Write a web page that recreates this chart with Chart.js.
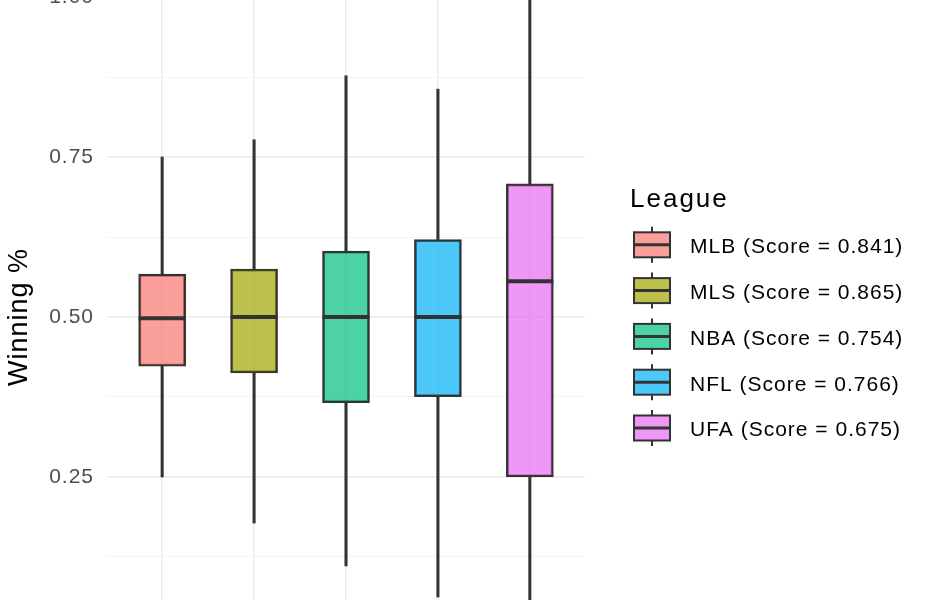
<!DOCTYPE html>
<html><head><meta charset="utf-8">
<script src="https://cdn.jsdelivr.net/npm/chart.js@4.4.0/dist/chart.umd.min.js"></script>
<style>
html,body{margin:0;padding:0;background:#fff;overflow:hidden;width:936px;height:600px;position:relative}
#wrap{position:absolute;left:0;top:-20px;width:936px;height:674px}
</style>
</head><body>
<div id="wrap"><canvas id="c" width="936" height="674"></canvas></div>
<script>
// ---- data ----
const leagues = ['MLB', 'MLS', 'NBA', 'NFL', 'UFA'];
const scores = ['0.841', '0.865', '0.754', '0.766', '0.675'];
const whiskerLow = [0.25, 0.178, 0.111, 0.0625, 0.0];
const q1 = [0.423, 0.4125, 0.366, 0.3755, 0.25];
const median = [0.498, 0.50, 0.50, 0.50, 0.556];
const q3 = [0.567, 0.575, 0.603, 0.621, 0.708];
const whiskerHigh = [0.75, 0.777, 0.877, 0.856, 1.0];
const majorTicks = [0.25, 0.5, 0.75, 1.0];
const minorTicks = [0.125, 0.375, 0.625, 0.875];
const baseColors = [[248,118,109],[163,165,0],[0,191,125],[0,176,246],[231,107,243]];

const FONT = "'Liberation Sans', Arial, Helvetica, sans-serif";
const fills = baseColors.map(c => `rgba(${c[0]},${c[1]},${c[2]},0.7)`);
const legendLabels = leagues.map((l, i) => `${l} (Score = ${scores[i]})`);
const xs = leagues.map((_, i) => i + 1);
const allTicks = [...majorTicks, ...minorTicks].sort((a, b) => a - b);
const isMajor = v => majorTicks.some(m => Math.abs(m - v) < 1e-9);

const BOX_W = 47;

const medianPlugin = {
  id: 'medians',
  afterDatasetsDraw(chart) {
    const {ctx, scales: {x, y}} = chart;
    ctx.save();
    ctx.strokeStyle = '#333333';
    ctx.lineWidth = 4;
    median.forEach((m, i) => {
      const px = x.getPixelForValue(xs[i]);
      const py = y.getPixelForValue(m);
      ctx.beginPath();
      ctx.moveTo(px - BOX_W / 2, py);
      ctx.lineTo(px + BOX_W / 2, py);
      ctx.stroke();
    });
    ctx.restore();
  }
};

const spacingPlugin = {
  id: 'spacing',
  beforeDraw(chart) { chart.ctx.letterSpacing = '1px'; }
};

const legendPlugin = {
  id: 'boxLegend',
  afterDraw(chart) {
    const ctx = chart.ctx;
    ctx.save();
    ctx.letterSpacing = '2px';
    ctx.fillStyle = '#000000';
    ctx.font = `26px ${FONT}`;
    ctx.textAlign = 'left';
    ctx.textBaseline = 'alphabetic';
    ctx.fillText('League', 630, 226.5);
    ctx.letterSpacing = '1px';
    ctx.font = `21px ${FONT}`;
    legendLabels.forEach((lab, i) => {
      const cy = 264.8 + 45.8 * i;
      ctx.strokeStyle = '#333333';
      ctx.lineWidth = 2;
      ctx.beginPath();
      ctx.moveTo(652, cy - 18);
      ctx.lineTo(652, cy + 18);
      ctx.stroke();
      ctx.fillStyle = '#ffffff';
      ctx.fillRect(634, cy - 12.5, 36, 25);
      ctx.fillStyle = fills[i];
      ctx.fillRect(634, cy - 12.5, 36, 25);
      ctx.lineWidth = 2;
      ctx.strokeRect(634, cy - 12.5, 36, 25);
      ctx.lineWidth = 3;
      ctx.beginPath();
      ctx.moveTo(634, cy);
      ctx.lineTo(670, cy);
      ctx.stroke();
      ctx.fillStyle = '#000000';
      ctx.fillText(lab, 690, cy + 8.3);
    });
    ctx.restore();
  }
};

const commonBar = { borderSkipped: false, grouped: false };

new Chart(document.getElementById('c'), {
  type: 'bar',
  data: {
    datasets: [
      { ...commonBar, label: 'low whisker', data: xs.map((x, i) => ({x, y: [whiskerLow[i], q1[i]]})),
        backgroundColor: '#333333', borderWidth: 0, barThickness: 2.4 },
      { ...commonBar, label: 'high whisker', data: xs.map((x, i) => ({x, y: [q3[i], whiskerHigh[i]]})),
        backgroundColor: '#333333', borderWidth: 0, barThickness: 2.4 },
      { ...commonBar, label: 'box', data: xs.map((x, i) => ({x, y: [q1[i], q3[i]]})),
        backgroundColor: fills, borderColor: '#333333', borderWidth: 2.2, barThickness: BOX_W }
    ]
  },
  options: {
    responsive: false,
    animation: false,
    layout: { padding: { left: 0, right: 351, top: 0, bottom: 0 } },
    plugins: { legend: { display: false }, tooltip: { enabled: false } },
    scales: {
      x: {
        type: 'linear', min: 0.4, max: 5.6, offset: false,
        afterBuildTicks: s => { s.ticks = xs.map(v => ({value: v})); },
        afterFit: s => { s.height = 0; s.paddingLeft = 0; s.paddingRight = 0; },
        ticks: { display: false },
        grid: { color: '#EBEBEB', lineWidth: 1.5, drawTicks: false, tickLength: 0, offset: false },
        border: { display: false }
      },
      y: {
        min: -0.0266, max: 1.0266,
        afterBuildTicks: s => { s.ticks = allTicks.map(v => ({value: v})); },
        afterFit: s => { s.width = 107; s.paddingTop = 0; s.paddingBottom = 0; },
        ticks: {
          callback: v => isMajor(v) ? v.toFixed(2) : '',
          color: '#4D4D4D',
          font: { family: FONT, size: 21 },
          padding: 13
        },
        grid: {
          color: c => (c.tick && isMajor(c.tick.value)) ? '#EBEBEB' : '#F3F3F3',
          lineWidth: c => (c.tick && isMajor(c.tick.value)) ? 1.5 : 1,
          drawTicks: false, tickLength: 0
        },
        border: { display: false },
        title: {
          display: true, text: 'Winning %', color: '#000000',
          font: { family: FONT, size: 27 },
          padding: { top: 3, bottom: 0 }
        }
      }
    }
  },
  plugins: [spacingPlugin, medianPlugin, legendPlugin]
});
</script>
</body></html>
